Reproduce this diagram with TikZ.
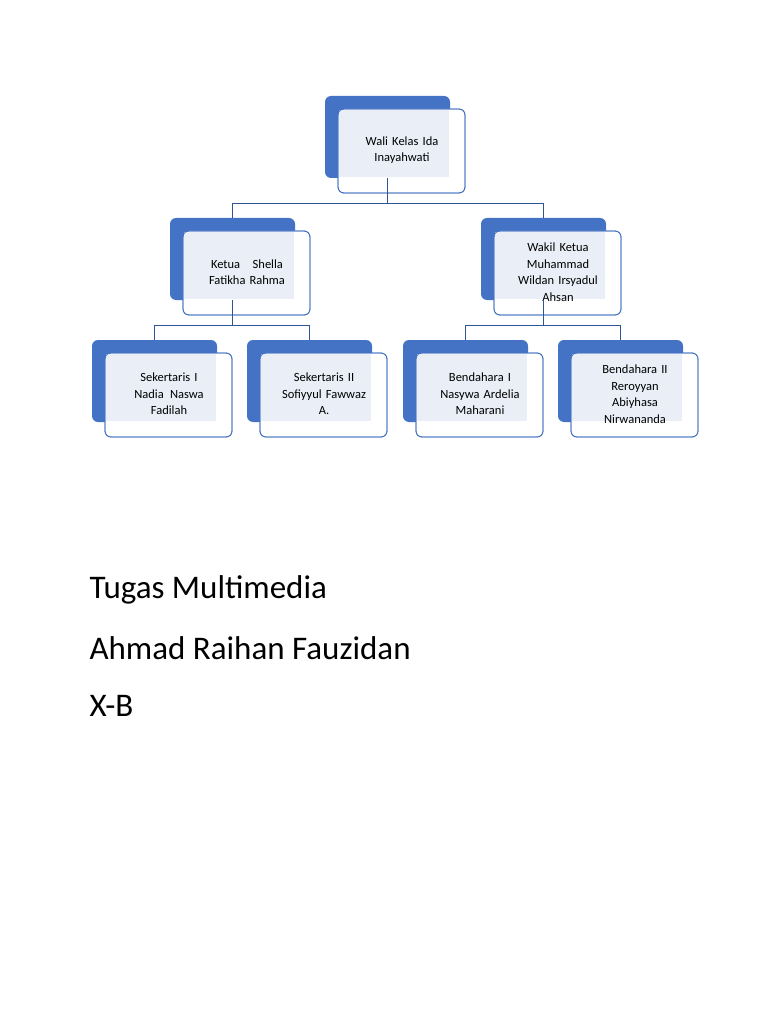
\documentclass[tikz,border=0pt]{standalone}
\usepackage{fontspec}
\setmainfont{Carlito}
\definecolor{bk}{HTML}{4472C4}
\definecolor{lt}{HTML}{E9EEF7}
\definecolor{ln}{HTML}{2F5597}
\begin{document}
\begin{tikzpicture}[x=1pt,y=-1pt,
  backbox/.style={fill=bk,rounded corners=6pt},
  frontbox/.style={fill=white,draw=bk,line width=0.8pt,rounded corners=6pt},
  lbl/.style={align=center,font=\fontsize{12.5}{16.5}\selectfont,text width=105pt},
  conn/.style={draw=ln,line width=1pt},
  big/.style={anchor=west,font=\fontsize{33}{38}\selectfont}]
\useasboundingbox (0,0) rectangle (768,1024);
\fill[white] (0,0) rectangle (768,1024);
\newcommand{\orgbox}[4]{%
  \fill[backbox] (#1,#2) rectangle ++(125,82);
  \fill[frontbox] (#1+13,#2+13) rectangle ++(127,84);
  \fill[lt] (#1+14,#2+14) rectangle (#1+124,#2+81);
  \draw[draw=bk,line width=0.8pt,rounded corners=6pt] (#1+13,#2+13) rectangle ++(127,84);
  \coordinate (#3t) at (#1+62.5,#2);
  \coordinate (#3b) at (#1+62.5,#2+82);
  \node[lbl] (#3) at (#1+77,#2+54) {#4};
}
\orgbox{325}{96}{a}{Wali Kelas Ida\\Inayahwati}
\orgbox{170}{218}{b}{Ketua\quad Shella\\Fatikha Rahma}
\orgbox{481}{218}{c}{Wakil Ketua\\Muhammad\\Wildan Irsyadul\\Ahsan}
\orgbox{92}{340}{d}{Sekertaris I\\Nadia\enspace Naswa\\Fadilah}
\orgbox{247}{340}{e}{Sekertaris II\\Sofiyyul Fawwaz\\A.}
\orgbox{403}{340}{f}{Bendahara I\\Nasywa Ardelia\\Maharani}
\orgbox{558}{340}{g}{Bendahara II\\Reroyyan\\Abiyhasa\\Nirwananda}
\draw[conn] (ab) -- ++(0,26) -| (bt);
\draw[conn] (ab) ++(0,26) -| (ct);
\draw[conn] (bb) -- ++(0,25) -| (dt);
\draw[conn] (bb) ++(0,25) -| (et);
\draw[conn] (cb) -- ++(0,25) -| (ft);
\draw[conn] (cb) ++(0,25) -| (gt);
\node[big] (t1) at (86,590) {Tugas Multimedia};
\node[big] (t2) at (86,648) {Ahmad Raihan Fauzidan};
\node[big] (t3) at (86,706) {X-B};
\end{tikzpicture}
\end{document}
